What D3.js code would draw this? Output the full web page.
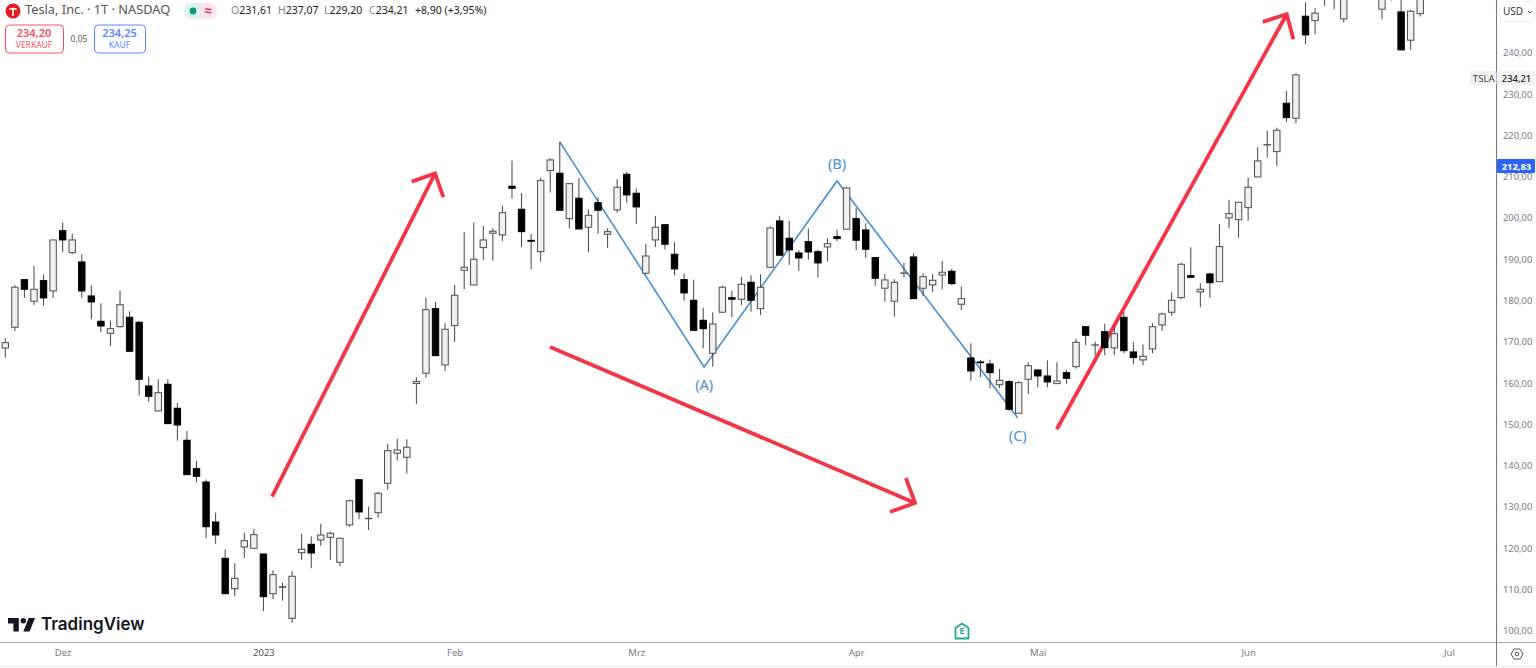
<!DOCTYPE html>
<html>
<head>
<meta charset="utf-8">
<title>TSLA</title>
<script src="https://cdn.jsdelivr.net/npm/d3@7"></script>
<style>
  html, body { margin: 0; padding: 0; background: #fff; overflow: hidden; }
  svg { display: block; font-family: "Noto Sans", sans-serif; }
</style>
</head>
<body>
<svg id="chart" width="1536" height="668"></svg>
<script>
// daily candles, 22 Nov 2022 on. the ones past 136 run off the top of the pane
var open = [168.31,173.33,184.86,179.63,184.62,182.12,196.73,191.40,189.15,180.91,
  174.78,171.88,173.47,175.75,174.54,159.11,153.05,159.52,153.71,145.96,
  139.08,135.85,126.16,117.37,110.00,120.11,119.79,118.41,108.79,110.34,
  102.83,118.73,120.76,121.80,122.46,116.40,125.44,136.41,126.96,128.42,
  135.54,142.81,141.84,159.72,162.19,177.84,164.20,173.72,187.14,183.58,
  192.61,196.10,195.69,207.49,201.91,194.37,191.64,211.27,210.64,199.64,
  204.58,197.55,203.51,195.86,201.75,210.39,205.79,186.41,194.48,198.18,
  191.01,184.86,179.87,175.02,167.03,176.96,180.50,180.11,184.23,177.84,
  187.86,199.08,194.89,191.33,194.07,191.64,192.78,195.28,197.07,199.64,
  196.90,190.19,182.78,179.63,186.40,190.36,182.78,183.58,186.00,186.89,
  178.90,165.89,164.92,164.44,159.42,160.15,152.50,160.73,162.99,161.53,
  159.67,162.33,163.78,173.47,169.00,172.26,168.31,175.75,167.35,165.41,
  168.07,173.89,176.96,180.50,185.83,181.88,186.24,184.38,199.81,199.39,
  202.30,209.74,217.50,215.87,227.59,223.96,248.67,247.60,253.48,258.92,
  248.02,258.92,261.50,275.13,250.37,259.29,249.71,242.86,249.30];
var high = [170.66,183.50,184.86,188.18,186.17,194.48,198.67,196.00,191.01,183.50,
  179.14,174.93,182.20,177.20,174.78,161.36,160.73,160.73,154.99,148.21,
  141.01,136.41,128.42,119.55,116.16,123.57,124.39,118.41,114.46,111.46,
  114.29,123.33,122.70,125.75,123.81,122.36,131.57,136.41,129.87,133.43,
  145.13,146.34,146.20,161.22,180.50,179.46,174.30,183.58,196.34,198.67,
  197.87,197.31,202.79,213.69,205.86,195.93,209.57,214.27,218.29,208.12,
  209.42,201.82,204.82,197.31,209.18,211.02,206.91,193.51,200.29,198.18,
  193.92,186.32,184.86,178.08,176.96,183.41,182.20,185.51,185.92,186.17,
  197.80,200.29,199.08,192.06,197.22,192.06,194.89,196.97,207.39,202.16,
  198.52,190.29,186.17,184.96,188.98,191.26,186.41,186.17,189.39,187.52,
  183.16,169.45,165.41,165.48,163.23,160.56,160.25,164.85,162.99,165.33,
  164.85,162.99,170.49,173.47,169.84,174.20,173.40,177.11,169.69,169.21,
  174.30,176.87,181.76,188.98,192.71,183.99,186.56,198.28,204.17,203.61,
  209.57,216.94,220.96,221.68,230.57,234.86,251.96,250.60,259.68,261.57,
  258.58,263.60,274.75,276.99,265.00,262.45,258.37,250.20,258.00];
var low = [165.97,172.43,180.43,178.73,178.56,180.43,191.50,191.01,180.43,175.27,
  172.19,168.87,173.23,167.40,156.76,155.31,153.05,149.98,145.86,137.62,
  135.78,122.21,120.91,108.79,108.16,117.44,119.79,104.60,107.51,107.10,
  101.77,116.96,114.95,120.42,116.96,115.50,125.02,126.82,124.23,127.20,
  133.99,141.01,137.96,154.75,161.12,166.45,162.74,169.77,182.53,183.58,
  189.63,189.46,194.24,204.48,192.71,187.38,189.22,205.94,201.67,197.31,
  197.14,191.50,196.00,192.54,201.09,203.51,198.35,186.17,192.78,192.13,
  185.92,179.77,172.43,168.24,163.78,176.96,175.82,178.73,177.11,176.24,
  187.86,190.77,188.42,186.97,189.71,185.35,189.22,194.16,197.07,191.98,
  190.12,183.41,179.53,175.90,185.44,180.26,180.91,181.88,182.53,183.58,
  177.52,160.39,161.29,158.55,158.62,153.13,152.50,157.17,158.79,158.79,
  159.67,159.67,163.30,169.04,166.38,166.55,166.55,167.03,164.37,164.12,
  167.03,172.43,176.12,180.11,185.20,178.18,180.50,184.38,197.31,195.03,
  199.15,209.74,214.41,212.40,223.06,222.75,241.89,244.31,251.16,250.37,
  247.12,257.01,261.12,257.78,247.94,252.45,240.51,240.51,248.57];
var close = [169.60,183.02,182.53,182.53,180.43,194.48,194.48,194.48,182.12,179.46,
  173.64,172.99,178.80,167.52,160.73,156.61,157.49,149.98,149.66,137.62,
  137.23,125.02,123.01,108.79,112.52,121.63,123.09,108.07,113.40,110.49,
  113.01,119.55,118.65,123.01,123.43,122.21,131.32,128.59,127.05,133.12,
  143.44,143.61,144.26,160.20,177.59,166.45,172.84,181.08,187.86,189.80,
  194.48,196.59,201.09,207.00,196.49,194.17,208.84,213.86,201.67,208.12,
  197.14,200.46,201.67,196.49,207.24,205.38,202.47,190.60,197.55,193.44,
  187.45,181.64,172.60,172.99,174.13,183.02,180.11,183.75,179.87,183.02,
  197.38,190.77,192.06,190.12,191.57,188.91,193.58,194.80,207.07,194.41,
  192.22,185.20,184.79,184.23,186.48,180.26,185.59,184.71,186.65,183.89,
  180.26,162.74,164.75,162.33,160.49,153.46,159.91,164.03,161.53,160.08,
  160.32,160.97,169.69,171.39,169.07,168.39,171.78,167.66,165.97,166.30,
  173.47,176.55,179.87,188.59,185.44,182.53,184.13,192.86,200.85,203.61,
  207.24,213.62,217.57,221.05,224.11,234.45,244.14,249.40,258.71,256.79,
  255.90,260.54,274.45,259.46,264.61,256.60,240.51,249.88,256.20];

var priceTicks = [100,110,120,130,140,150,160,170,180,190,200,210,220,230,240];
var monthIndex = [6,27,47,66,89,108,130,151];
var monthNames = ["Dez","2023","Feb","Mrz","Apr","Mai","Jun","Jul"];

// drawings, as [candle index, price]
var waveIdx = [58,73.1,87,105.9];
var wavePrice = [218.22,163.71,208.77,151.36];
var waveNames = ["(A)","(B)","(C)"];
var arrowUp1 = [[27.9,132.29],[44.95,210.59]];
var arrowUp1Head = [[42.51,208.60],[44.95,210.59],[45.82,204.82]];
var arrowDown = [[56.98,168.56],[95.16,130.77]];
var arrowDownHead = [[94.2,136.82],[95.16,130.77],[92.54,128.59]];
var arrowUp2 = [[109.98,148.62],[134.04,249.15]];
var arrowUp2Head = [[131.53,247.29],[134.04,249.15],[134.73,243.10]];

var paneRight = 1496.5, paneBottom = 642.5;
var gray = "#787b86", red = "#f23645", blue = "#4a90d2";

var x = d3.scaleLinear().domain([0,151]).range([5.3,1448.9]);
var y = d3.scaleLinear().domain([100,240]).range([630,52]);
var svg = d3.select("#chart");

var comma = function(v) { return d3.format(".2f")(v).replace(".",","); };

svg.append("defs").append("clipPath").attr("id","pane")
  .append("rect").attr("width",paneRight).attr("height",paneBottom);

var pane = svg.append("g").attr("clip-path","url(#pane)");

// drawings go under the candles
var line = d3.line().x(function(d){ return x(d[0]); }).y(function(d){ return y(d[1]); });

pane.append("path")
  .datum(waveIdx.map(function(v,i){ return [v,wavePrice[i]]; }))
  .attr("d",line).attr("fill","none").attr("stroke",blue).attr("stroke-width",1.6);

[arrowUp1,arrowUp1Head,arrowDown,arrowDownHead,arrowUp2,arrowUp2Head].forEach(function(a){
  pane.append("path").datum(a).attr("d",line)
    .attr("fill","none").attr("stroke",red).attr("stroke-width",3.8);
});

// candles
var candles = pane.selectAll("g.candle").data(d3.range(open.length)).enter()
  .append("g").attr("class","candle");

candles.append("line")
  .attr("x1",function(i){ return x(i); })
  .attr("x2",function(i){ return x(i); })
  .attr("y1",function(i){ return y(high[i]); })
  .attr("y2",function(i){ return y(low[i]); })
  .attr("stroke","#444").attr("stroke-width",1);

candles.append("rect")
  .attr("x",function(i){ return x(i)-3.2; })
  .attr("width",6.4)
  .attr("y",function(i){ return y(Math.max(open[i],close[i])); })
  .attr("height",function(i){ return Math.abs(y(open[i])-y(close[i])); })
  .attr("fill",function(i){ return close[i]>=open[i] ? "#f0f0f0" : "#000"; })
  .attr("stroke",function(i){ return close[i]>=open[i] ? "#4d4d4d" : "#000"; })
  .attr("stroke-width",1);

// wave labels
var labelDy = [19,-16,19];
waveNames.forEach(function(t,i){
  svg.append("text").text(t)
    .attr("x",x(waveIdx[i+1]))
    .attr("y",y(wavePrice[i+1])+labelDy[i])
    .attr("text-anchor","middle").attr("dominant-baseline","middle")
    .attr("font-size",14.5).attr("fill",blue);
});

// price axis
var yAxis = svg.append("g").attr("transform","translate(1503,0.7)")
  .call(d3.axisRight(y).tickValues(priceTicks).tickSize(0).tickPadding(0).tickFormat(comma));
yAxis.select(".domain").remove();
yAxis.selectAll("text").attr("font-family","Noto Sans").attr("font-size",9.4).attr("fill",gray);

// time axis
var xAxis = svg.append("g").attr("transform","translate(0,"+paneBottom+")")
  .call(d3.axisBottom(x).tickValues(monthIndex).tickSize(0).tickPadding(7)
    .tickFormat(function(d){ return monthNames[monthIndex.indexOf(d)]; }));
xAxis.select(".domain").remove();
xAxis.selectAll("text").attr("font-family","Noto Sans").attr("font-size",9.5)
  .attr("fill",function(d){ return d==27 ? "#555" : gray; });

// frame
svg.append("line").attr("x1",0).attr("x2",1536).attr("y1",paneBottom).attr("y2",paneBottom)
  .attr("stroke","#a8a8a8").attr("stroke-width",1.2);
svg.append("line").attr("x1",paneRight).attr("x2",paneRight).attr("y1",0).attr("y2",666)
  .attr("stroke","#777").attr("stroke-width",1);
svg.append("line").attr("x1",0).attr("x2",1536).attr("y1",666.5).attr("y2",666.5)
  .attr("stroke","#f0f0f0").attr("stroke-width",1);

// price tags
function tag(x0,y0,w,h,bg,txt,col,weight,size) {
  svg.append("rect").attr("x",x0).attr("y",y0).attr("width",w).attr("height",h)
    .attr("fill",bg).attr("rx",1);
  svg.append("text").text(txt).attr("x",x0+w/2+.5).attr("y",y0+h/2+1)
    .attr("text-anchor","middle").attr("dominant-baseline","middle")
    .attr("font-size",size).attr("fill",col).attr("font-weight",weight);
}
tag(1470,71,26.5,14,"#f1f1f1","TSLA","#444",400,9.6);
tag(1497,71,38,14,"#f1f1f1","234,21","#222",500,9.4);
tag(1497,159,38,14,"#2962ff","212,83","#fff",700,9.4);

// USD button
svg.append("rect").attr("x",1500).attr("y",1.5).attr("width",35).attr("height",20).attr("rx",4)
  .attr("fill","#fff").attr("stroke","#f0f0f0");
svg.append("text").text("USD").attr("x",1503).attr("y",12).attr("dominant-baseline","middle")
  .attr("font-size",10).attr("fill","#333");
svg.append("path").attr("d","M1528 11l2 2 2-2").attr("fill","none").attr("stroke","#555");

// header
svg.append("circle").attr("cx",13).attr("cy",11).attr("r",7.5).attr("fill","#e31b23");
svg.append("path").attr("d","M9 8.5q4-1.6 8 0l-.6 1.4q-1.6-.5-2.6-.5V16h-1.6V9.4q-1 0-2.6.5z").attr("fill","#fff");
svg.append("text").text("Tesla, Inc. · 1T · NASDAQ").attr("x",25).attr("y",11)
  .attr("dominant-baseline","middle").attr("font-size",12.8).attr("fill","#555");

svg.append("path").attr("d","M201 3h-9a8 8 0 0 0 0 16h9z").attr("fill","#e0f2ef");
svg.append("path").attr("d","M201 3h8a8 8 0 0 1 0 16h-8z").attr("fill","#fce4ec");
svg.append("circle").attr("cx",193).attr("cy",11).attr("r",3.4).attr("fill","#089981");
svg.append("text").text("≈").attr("x",208).attr("y",11).attr("text-anchor","middle")
  .attr("dominant-baseline","middle").attr("font-size",13).attr("font-weight",700).attr("fill","#e91e63");

var ohlcNames = ["O","H","L","C"];
var ohlcValues = ["231,61","237,07","229,20","234,21"];
var ohlcX = [231,278,324,369];
ohlcNames.forEach(function(n,i){
  var t = svg.append("text").attr("x",ohlcX[i]).attr("y",11)
    .attr("dominant-baseline","middle").attr("font-size",10.5).attr("fill","#222");
  t.append("tspan").text(n).attr("fill","#888");
  t.append("tspan").text(ohlcValues[i]);
});
svg.append("text").text("+8,90 (+3,95%)").attr("x",415).attr("y",11)
  .attr("dominant-baseline","middle").attr("font-size",10.5).attr("fill","#222");

// buy and sell boxes
function tradeBox(x0,w,col,price,name) {
  svg.append("rect").attr("x",x0+.5).attr("y",25).attr("width",w).attr("height",28).attr("rx",4)
    .attr("fill","#fff").attr("stroke",col).attr("stroke-width",1);
  svg.append("text").text(price).attr("x",x0+w/2).attr("y",34).attr("text-anchor","middle")
    .attr("dominant-baseline","middle").attr("font-size",11).attr("font-weight",600).attr("fill",col);
  svg.append("text").text(name).attr("x",x0+w/2).attr("y",46).attr("text-anchor","middle")
    .attr("dominant-baseline","middle").attr("font-size",8.5).attr("fill",col);
}
tradeBox(5,58,"#f7525f","234,20","VERKAUF");
tradeBox(94,51,"#5b86ff","234,25","KAUF");
svg.append("text").text("0,05").attr("x",79).attr("y",39.5).attr("text-anchor","middle")
  .attr("dominant-baseline","middle").attr("font-size",8.5).attr("fill","#555");

// logo
svg.append("path").attr("transform","translate(6.2,612.6) scale(.9)")
  .attr("d","M14 6H2v6h6v9h6V6zm12 15h-7l6-15h7l-6 15zm-7-9a3 3 0 1 0 0-6 3 3 0 0 0 0 6z")
  .attr("fill","#131722");
svg.append("text").text("TradingView").attr("x",41).attr("y",625.5)
  .attr("dominant-baseline","middle").attr("font-family","Inter").attr("font-weight",600)
  .attr("font-size",17).attr("fill","#131722");

// earnings marker
svg.append("path").attr("d","M955.5 638.5v-10.5l6.5-4.5 6.5 4.5v10.5z")
  .attr("fill","#fff").attr("stroke","#22ab94").attr("stroke-width",1.8).attr("stroke-linejoin","round");
svg.append("text").text("E").attr("x",962).attr("y",632).attr("text-anchor","middle")
  .attr("dominant-baseline","middle").attr("font-size",9).attr("font-weight",700).attr("fill","#22ab94");

// settings icon
svg.append("path").attr("d","M1511 654l3-5h6l3 5-3 5h-6z").attr("fill","none").attr("stroke","#555").attr("stroke-width",1);
svg.append("circle").attr("cx",1517).attr("cy",654).attr("r",1.8).attr("fill","none").attr("stroke","#555");
</script>
</body>
</html>
